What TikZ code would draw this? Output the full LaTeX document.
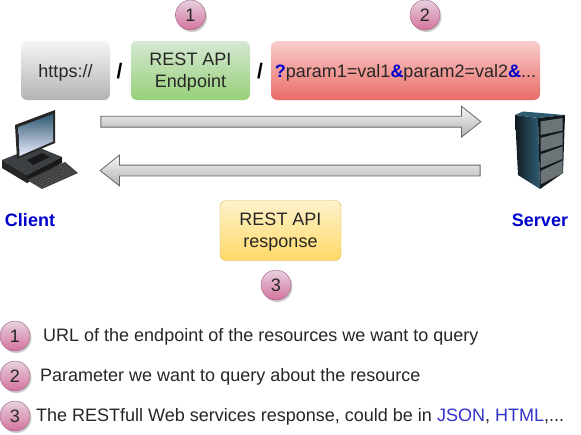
\documentclass[tikz,border=0pt]{standalone}
\usepackage{fontspec}
\setmainfont{Liberation Sans}
\usetikzlibrary{shapes.arrows,shadows}
\definecolor{urlblue}{HTML}{0000CC}
\definecolor{linkblue}{HTML}{3333CC}
\definecolor{pinktop}{HTML}{E6D0DE}
\definecolor{pinkbot}{HTML}{D5739D}
\definecolor{pinkline}{HTML}{996185}
\definecolor{graytop}{HTML}{F5F5F5}
\definecolor{graybot}{HTML}{B3B3B3}
\definecolor{greentop}{HTML}{D5E8D4}
\definecolor{greenbot}{HTML}{97D077}
\definecolor{redtop}{HTML}{F8CECC}
\definecolor{redbot}{HTML}{EA6B66}
\definecolor{yellowtop}{HTML}{FFF2CC}
\definecolor{yellowbot}{HTML}{FFD966}
\definecolor{yellowline}{HTML}{D6B656}
\definecolor{arrowline}{HTML}{666666}
\definecolor{rackblue}{HTML}{2E5A70}
\definecolor{rackdark}{HTML}{10181E}
\definecolor{baygray}{HTML}{6C7478}
\definecolor{pcgray}{HTML}{3C4044}
\tikzset{
  urlbox/.style={draw=none,rounded corners=6pt,inner sep=0pt,outer sep=0pt,minimum height=59pt,align=center},
  oneline/.style={text height=17pt,text depth=4pt},
  twolines/.style={text height=37pt,text depth=4pt},
  numdot/.style={circle,draw=pinkline,top color=pinktop,bottom color=pinkbot,minimum size=30pt,inner sep=0pt,
                 drop shadow={shadow xshift=1.5pt,shadow yshift=-2pt,fill=black!40}},
  flowarrow/.style={single arrow,draw=arrowline,thick,top color=graytop,bottom color=graybot,
                    minimum height=380pt,minimum width=30.5pt,inner xsep=0pt,inner ysep=5pt,outer sep=0pt,
                    single arrow head extend=10pt,single arrow tip angle=77,single arrow head indent=0pt},
  sidelabel/.style={text=urlblue,font=\fontsize{18}{20}\selectfont\bfseries},
  listtext/.style={anchor=west,inner sep=0pt},
}
\begin{document}
\begin{tikzpicture}[x=1pt,y=-1pt,every node/.append style={font=\fontsize{18}{22}\selectfont,text=black!85}]
  \useasboundingbox (0,0) rectangle (581,434);
  \fill[white] (0,0) rectangle (581,434);

  \node[urlbox,oneline,minimum width=89pt,top color=graytop,bottom color=graybot] (scheme) at (65.5,70.5) {https://};
  \node[urlbox,twolines,minimum width=119pt,top color=greentop,bottom color=greenbot] (endpoint) at (190.5,70.5) {REST API\\Endpoint};
  \node[urlbox,oneline,minimum width=269pt,top color=redtop,bottom color=redbot] (params) at (405.5,70.5)
      {\textcolor{urlblue}{\textbf{?}}param1=val1\textcolor{urlblue}{\textbf{\&}}param2=val2\textcolor{urlblue}{\textbf{\&}}...};
  \node[font=\fontsize{21}{24}\selectfont\bfseries,text=black] (slash1) at (119.5,71) {/};
  \node[font=\fontsize{21}{24}\selectfont\bfseries,text=black] (slash2) at (260,71) {/};

  \node[numdot] (n1) at (190.5,15) {1};
  \node[numdot] (n2) at (425,15) {2};

  \node[flowarrow] (request) at (287.5,121.7) {};
  \node[flowarrow,shape border rotate=180] (reply) at (293.5,170.5) {};

  % client
  \fill[pcgray] (2,160) -- (27,150) -- (40,148) -- (62,157) -- (27,175) -- cycle;
  \fill[black!85] (2,160) -- (27,175) -- (27,183) -- (2,168) -- cycle;
  \fill[black!90] (27,175) -- (62,157) -- (62,163) -- (27,183) -- cycle;
  \fill[black!85] (15,125) -- (55,110) -- (55,143) -- (17,159) -- cycle;
  \shade[top color=rackblue,bottom color=blue!8!white] (18.5,127) -- (53,114) -- (53,141.5) -- (19.5,156) -- cycle;
  \fill[black!90] (27,160) -- (42,153) -- (50,157) -- (33,165) -- cycle;
  \fill[black!75] (27,180) -- (65,162) -- (78,173) -- (42,189) -- cycle;
  \foreach \k in {0,.2,.4,.6,.8}
    \draw[black!45,densely dotted] (30+14*\k,181.5+8*\k) -- (65+13*\k,165+8*\k);

  % server
  \shade[left color=rackdark,right color=rackblue,middle color=rackblue!70!black] (515,115) -- (538,118) -- (540,189) -- (518,175) -- cycle;
  \fill[rackblue] (515,115) -- (523,111.5) -- (565,115) -- (538,118) -- cycle;
  \fill[rackdark] (538,118) -- (565,115) -- (563,173) -- (540,189) -- cycle;
  \foreach \b in {0,1,2,3}
    \fill[baygray] (540.5,121.5+16.5*\b) -- (562.5,118+14.2*\b) -- (562.5,130.5+14.2*\b) -- (540.5,135+16.5*\b) -- cycle;

  \node[sidelabel] (client) at (30,220) {Client};
  \node[sidelabel] (server) at (540,220) {Server};

  \node[urlbox,twolines,draw=yellowline,minimum width=121pt,minimum height=60pt,top color=yellowtop,bottom color=yellowbot] (response) at (280.5,230.5) {REST API\\response};
  \node[numdot] (n3) at (276,285) {3};

  \node[numdot] (item1) at (15,336) {1};
  \node[numdot] (item2) at (15,376) {2};
  \node[numdot] (item3) at (15,416) {3};
  \node[listtext] (text1) at (43,337) {URL of the endpoint of the resources we want to query};
  \node[listtext] (text2) at (40,377) {Parameter we want to query about the resource};
  \node[listtext] (text3) at (36,417) {The RESTfull Web services response, could be in \textcolor{linkblue}{JSON}, \textcolor{linkblue}{HTML},...};
\end{tikzpicture}
\end{document}
